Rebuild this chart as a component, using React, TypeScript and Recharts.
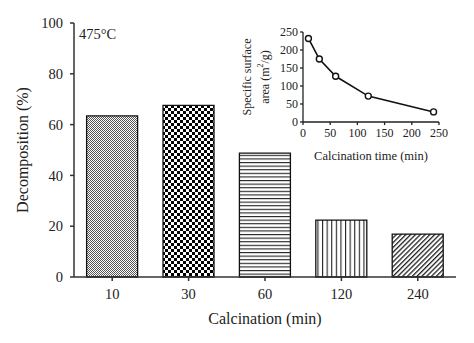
import React from 'react';
import { BarChart, Bar, XAxis, YAxis, Cell, LineChart, Line } from 'recharts';

const categories = ['10', '30', '60', '120', '240'];
const decomposition = [63.4, 67.6, 48.8, 22.4, 16.9];
const yTicks = [0, 20, 40, 60, 80, 100];

const insetTimes = [10, 30, 60, 120, 240];
const insetArea = [232, 175, 127, 72, 28];
const insetTicks = [0, 50, 100, 150, 200, 250];

const barData = categories.map((c, i) => ({ cat: c, value: decomposition[i] }));
const lineData = insetTimes.map((t, i) => ({ t, area: insetArea[i] }));

const FONT = '"Liberation Serif", "DejaVu Serif", serif';
const patternIds = ['pFine', 'pChecker', 'pHoriz', 'pVert', 'pDiag'];

const Patterns = () => (
  <svg width={0} height={0} style={{ position: 'absolute' }}>
    <defs>
      <pattern id="pFine" width={2} height={2} patternUnits="userSpaceOnUse">
        <rect width={2} height={2} fill="#fff" />
        <rect x={0} y={0} width={1} height={1} fill="#555" />
        <rect x={1} y={1} width={1} height={1} fill="#555" />
      </pattern>
      <pattern id="pChecker" width={6} height={6} patternUnits="userSpaceOnUse">
        <rect width={6} height={6} fill="#fff" />
        <rect x={0} y={0} width={3} height={3} fill="#000" />
        <rect x={3} y={3} width={3} height={3} fill="#000" />
      </pattern>
      <pattern id="pHoriz" width={4} height={3.6} patternUnits="userSpaceOnUse">
        <rect width={4} height={3.6} fill="#fff" />
        <rect x={0} y={0} width={4} height={1.1} fill="#222" />
      </pattern>
      <pattern id="pVert" width={4.6} height={4} patternUnits="userSpaceOnUse">
        <rect width={4.6} height={4} fill="#fff" />
        <rect x={0} y={0} width={1.1} height={4} fill="#222" />
      </pattern>
      <pattern id="pDiag" width={3.4} height={3.4} patternUnits="userSpaceOnUse" patternTransform="rotate(45)">
        <rect width={3.4} height={3.4} fill="#fff" />
        <rect x={0} y={0} width={1.3} height={3.4} fill="#222" />
      </pattern>
    </defs>
  </svg>
);

const MainYLabel = () => (
  <text x={24} y={150} transform="rotate(-90 24 150)" textAnchor="middle" dominantBaseline="middle"
    fontFamily={FONT} fontSize={16} fill="#222">Decomposition (%)</text>
);

const InsetYLabel = () => (
  <g fontFamily={FONT} fontSize={12} fill="#222">
    <text x={18} y={77} transform="rotate(-90 18 77)" textAnchor="middle" dominantBaseline="middle">Specific surface</text>
    <text x={36} y={77} transform="rotate(-90 36 77)" textAnchor="middle" dominantBaseline="middle">
      area (m<tspan baselineShift="super" fontSize={8}>2</tspan>/g)
    </text>
  </g>
);

export default function App() {
  return (
    <div style={{ position: 'fixed', left: 0, top: 0, width: 474, height: 343, background: '#fff' }}>
      <Patterns />
      <div style={{ position: 'absolute', left: 0, top: 0 }}>
        <BarChart width={474} height={343} data={barData}
          margin={{ top: 23, right: 18, left: 0, bottom: 0 }} barCategoryGap="16.5%">
          <XAxis dataKey="cat" height={66} stroke="#333" strokeWidth={1.5} tickSize={4} tickMargin={8} interval={0}
            tick={{ fill: '#222', fontFamily: FONT, fontSize: 14.5 }}
            label={{ value: 'Calcination (min)', position: 'insideBottom', offset: 19, fill: '#222', fontFamily: FONT, fontSize: 16 }} />
          <XAxis xAxisId="top" dataKey="cat" orientation="top" height={0} stroke="#333" strokeWidth={1.5} tick={false} tickLine={false} />
          <YAxis domain={[0, 100]} ticks={yTicks} width={74} stroke="#333" strokeWidth={1.5} tickSize={4} tickMargin={7} interval={0}
            tick={{ fill: '#222', fontFamily: FONT, fontSize: 14.5 }}
            label={{ content: () => <MainYLabel /> }} />
          <YAxis yAxisId="right" orientation="right" width={0} stroke="#333" strokeWidth={1.5} tick={false} tickLine={false} domain={[0, 100]} />
          <Bar dataKey="value" isAnimationActive={false} stroke="#111" strokeWidth={1.3}>
            {barData.map((d, i) => (
              <Cell key={d.cat} fill={`url(#${patternIds[i]})`} />
            ))}
          </Bar>
        </BarChart>
      </div>
      <div style={{ position: 'absolute', left: 79, top: 26, fontFamily: FONT, fontSize: 14.5, color: '#222' }}>475°C</div>
      <div style={{ position: 'absolute', left: 230, top: 0 }}>
        <LineChart width={244} height={180} data={lineData} margin={{ top: 32, right: 35, left: 0, bottom: 0 }}>
          <XAxis dataKey="t" type="number" domain={[0, 250]} ticks={insetTicks} interval={0} height={58} stroke="#222" strokeWidth={1.3}
            tickSize={3} tickMargin={3} tick={{ fill: '#222', fontFamily: FONT, fontSize: 12 }}
            label={{ value: 'Calcination time (min)', position: 'insideBottom', offset: 20, fill: '#222', fontFamily: FONT, fontSize: 12.5 }} />
          <XAxis xAxisId="top" dataKey="t" type="number" domain={[0, 250]} orientation="top" height={0} stroke="#222" strokeWidth={1.3} tick={false} tickLine={false} />
          <YAxis domain={[0, 250]} ticks={insetTicks} interval={0} width={73} stroke="#222" strokeWidth={1.3} tickSize={3} tickMargin={2}
            tick={{ fill: '#222', fontFamily: FONT, fontSize: 12 }}
            label={{ content: () => <InsetYLabel /> }} />
          <YAxis yAxisId="right" orientation="right" width={0} domain={[0, 250]} stroke="#222" strokeWidth={1.3} tick={false} tickLine={false} />
          <Line dataKey="area" type="linear" stroke="#111" strokeWidth={1.6} isAnimationActive={false}
            dot={{ r: 3, stroke: '#111', strokeWidth: 1.4, fill: '#fff' }} />
        </LineChart>
      </div>
    </div>
  );
}
